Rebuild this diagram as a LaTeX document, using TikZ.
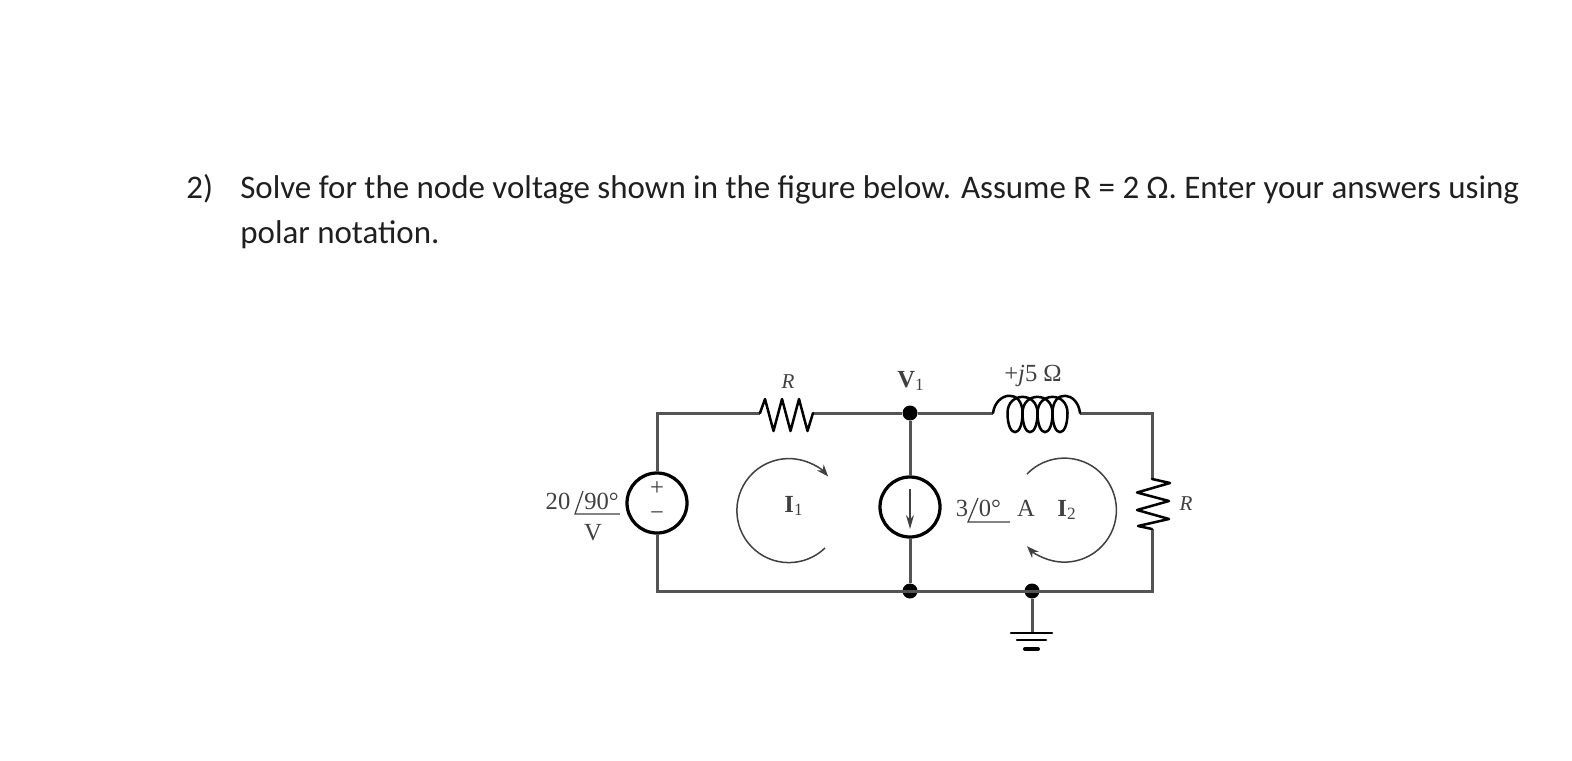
\documentclass[tikz,border=0pt]{standalone}
\usepackage{fontspec}
\setmainfont{Carlito}
\newfontfamily\figfont{Liberation Serif}
\usepackage{tikz}
\usetikzlibrary{arrows.meta}
\definecolor{wirecol}{gray}{0.33}
\definecolor{labcol}{gray}{0.25}
\tikzset{
  wire/.style={draw=wirecol,line width=0.06cm},
  part/.style={draw=black,line width=0.05cm,line join=round,line cap=round},
  source/.style={circle,draw=black,line width=0.065cm,minimum size=1.2cm,inner sep=0pt},
  junction/.style={circle,fill=black,minimum size=0.3cm,inner sep=0pt},
  looparrow/.style={draw=labcol,line width=0.03cm,-{Stealth[length=0.24cm,width=0.18cm]}},
  thinline/.style={draw=labcol,line width=0.025cm},
  question/.style={anchor=base west,font=\fontsize{18.75}{22}\selectfont,text=black!88,inner sep=0pt},
  label/.style={font=\figfont\fontsize{14}{16}\selectfont,text=labcol,inner sep=0pt},
  smalllabel/.style={font=\figfont\fontsize{12}{14}\selectfont,text=labcol,inner sep=0pt}
}
\begin{document}
\begin{tikzpicture}
    \useasboundingbox (0,0) rectangle (31.44,15.2);

    \node[question] (num) at (3.72,11.24) {2)};
    \node[question] (line1) at (4.80,11.24) {Solve for the node voltage shown in the figure below. Assume R = 2 Ω. Enter your answers using};
    \node[question] (line2) at (4.80,10.34) {polar notation.};

    \begin{scope}[yshift=-0.02cm]
    % corners of the mesh
    \coordinate (tl) at (13.14,6.96);
    \coordinate (tr) at (23.04,6.96);
    \coordinate (bl) at (13.14,3.40);
    \coordinate (br) at (23.04,3.40);
    \coordinate (ra) at (15.20,6.96);
    \coordinate (rb) at (16.26,6.96);
    \coordinate (la) at (19.86,6.96);
    \coordinate (lb) at (21.60,6.96);
    \coordinate (sa) at (23.04,5.64);
    \coordinate (sb) at (23.04,4.64);

    \node[junction] (top) at (18.20,6.96) {};
    \node[junction] (bot) at (18.20,3.40) {};
    \node[junction] (gnd) at (20.64,3.40) {};
    \node[source] (vs) at (13.14,5.16) {};
    \node[source] (cs) at (18.20,5.08) {};
    \coordinate (earth) at (20.64,2.56);

    \draw[wire] (vs) -- (tl) -- (ra);
    \draw[wire] (rb) -- (top) -- (la);
    \draw[wire] (lb) -- (tr) -- (sa);
    \draw[wire] (sb) -- (br) -- (bl) -- (vs);
    \draw[wire] (top) -- (cs) -- (bot);
    \draw[wire] (gnd) -- (earth);

    % top resistor
    \draw[part] (ra) -- ++(0.10,0.28) -- ++(0.17,-0.64) -- ++(0.17,0.64) -- ++(0.17,-0.64) -- ++(0.17,0.64) -- ++(0.17,-0.64) -- (rb);
    % side resistor
    \draw[part] (sa) -- (23.40,5.56) -- (22.74,5.37) -- (23.38,5.20) -- (22.74,5.02) -- (23.38,4.84) -- (22.76,4.70) -- (sb);
    % inductor
    \draw[part] (la) .. controls (19.92,7.39) and (20.45,7.45) .. (20.45,6.96);
    \foreach \x in {20.45,20.75,21.05} {
        \draw[part] (\x,6.96) .. controls (\x,6.45) and (\x-0.3,6.45) .. (\x-0.3,6.96)
            .. controls (\x-0.3,7.39) and (\x+0.3,7.39) .. (\x+0.3,6.96);
    }
    \draw[part] (21.35,6.96) .. controls (21.35,6.45) and (21.05,6.45) .. (21.05,6.96)
        .. controls (21.05,7.45) and (21.55,7.39) .. (lb);

    % ground
    \draw[part] (20.22,2.56) -- (21.04,2.56);
    \draw[part] (20.34,2.42) -- (20.92,2.42);
    \draw[part,line width=0.08cm] (20.50,2.24) -- (20.76,2.24);

    % loops
    \draw[looparrow] (16.50,4.26) arc[start angle=-46,end angle=-319,radius=1.04];
    \draw[looparrow] (20.54,5.74) arc[start angle=136,end angle=-136,radius=1.04];
    \draw[draw=labcol,line width=0.03cm,-{Stealth[length=0.28cm,width=0.16cm]}] (18.20,5.44) -- (18.20,4.64);

    \node[smalllabel] (rtop) at (15.76,7.58) {\textit{R}};
    \node[smalllabel] (rside) at (23.72,5.14) {\textit{R}};
    \node[label] (v1) at (18.22,7.60) {\textbf{V}\textsubscript{1}};
    \node[label] (xl) at (20.66,7.70) {+\textit{j}5 Ω};
    \node[label] (i1) at (15.88,5.10) {\textbf{I}\textsubscript{1}};
    \node[label] (i2) at (21.34,5.02) {\textbf{I}\textsubscript{2}};
    \node[label] (vplus) at (13.14,5.44) {+};
    \node[label] (vminus) at (13.14,4.90) {−};
    \node[label] (vval) at (11.16,5.20) {20};
    \node[label] (vang) at (12.03,5.20) {90°};
    \node[label] (vunit) at (11.86,4.56) {V};
    \node[label] (cval) at (19.24,5.06) {3};
    \node[label] (cang) at (19.80,5.06) {0°};
    \node[label] (cunit) at (20.52,5.06) {A};

    % angle signs
    \draw[thinline] (12.40,4.94) -- (11.50,4.94) -- (11.66,5.40);
    \draw[thinline] (20.20,4.78) -- (19.36,4.78) -- (19.56,5.26);
    \end{scope}
\end{tikzpicture}
\end{document}
